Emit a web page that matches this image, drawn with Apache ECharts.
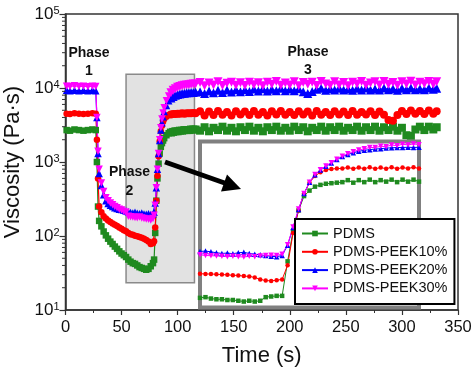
<!DOCTYPE html>
<html>
<head>
<meta charset="utf-8">
<script src="https://cdn.jsdelivr.net/npm/echarts@6/dist/echarts.min.js"></script>
<style>
  html, body { margin: 0; padding: 0; background: #fff; }
  #chart { width: 474px; height: 376px; }
</style>
</head>
<body>
<div id="chart"></div>
<script>
// ---- main plot data (time in s, viscosity in Pa·s) ----
const times = [
  1, 4, 8, 12, 16, 20, 24, 27,
  28, 29, 30,
  32, 34, 36, 38, 40, 42, 44, 46, 48, 50, 52, 54,
  56, 58, 60, 62, 64, 66, 68, 70, 72, 74, 76, 78,
  79, 80, 81, 82, 83, 84, 85, 86, 87, 88,
  90, 92, 94, 96, 98, 100, 102, 104, 106, 108, 110, 112, 114, 116,
  120, 124, 128, 132, 136, 140, 144, 148, 152, 156,
  160, 164, 168, 172, 176, 180, 184, 188, 192, 196,
  200, 204, 208, 212, 216, 220, 224, 228, 232, 236,
  240, 244, 248, 252, 256, 260, 264, 268, 272, 276,
  280, 284, 288, 292, 296, 300, 304, 308, 312, 316,
  320, 324, 328, 331
];

const pdms = [
  2700, 2650, 2750, 2700, 2650, 2700, 2750, 2700,
  1000, 250, 160,
  135, 115, 102, 92, 84, 78, 72, 67, 62, 58, 55, 52,
  48, 45, 43, 42, 40, 38, 37, 36, 35, 36, 39, 43,
  48, 110, 300, 600, 950, 1300, 1600, 1800, 1950, 2100,
  2300, 2450, 2500, 2550, 2600, 2600, 2650, 2650, 2700, 2700, 2700, 2750, 2750, 2750,
  2650, 2950, 2600, 2900, 2700, 3000, 2650, 2900, 2600, 2950,
  2700, 3000, 2650, 2900, 2600, 2950, 2700, 3000, 2650, 2900,
  2650, 3000, 2700, 2950, 2600, 2900, 2700, 3000, 2650, 2950,
  2700, 3000, 2650, 2900, 2700, 3000, 2650, 2950, 2700, 3000,
  2650, 2950, 2700, 3000, 2650, 2900, 2300, 2250, 2750, 3000,
  2700, 3000, 2750, 2950
];

const peek10 = [
  4500, 4450, 4550, 4500, 4450, 4500, 4550, 4500,
  2000, 600, 250,
  210, 185, 172, 162, 155, 148, 142, 136, 130, 125, 120, 116,
  110, 106, 104, 101, 99, 97, 95, 92, 88, 84, 78, 80,
  85, 130, 300, 650, 1200, 1900, 2600, 3100, 3500, 3800,
  4100, 4300, 4400, 4450, 4450, 4500, 4500, 4550, 4500, 4550, 4550, 4550, 4600, 4550,
  4850, 4250, 4800, 4300, 4900, 4350, 4750, 4250, 4850, 4400,
  4800, 4300, 4900, 4350, 4750, 4250, 4850, 4400, 4900, 4350,
  4750, 4300, 4850, 4400, 4800, 4250, 4900, 4350, 4750, 4300,
  4850, 4400, 4800, 4300, 4900, 4350, 4750, 4400, 4850, 4300,
  4800, 4350, 3700, 3600, 4300, 4900, 4450, 4950, 4500, 4900,
  4450, 4950, 4500, 4850
];

const peek20 = [
  9300, 9200, 9300, 9200, 9300, 9200, 9300, 9200,
  4000, 1300, 700,
  480, 360, 300, 275, 260, 250, 240, 235, 230, 228, 222, 218,
  212, 208, 205, 210, 203, 200, 205, 198, 196, 200, 195, 198,
  210, 280, 450, 800, 1300, 1950, 2700, 3400, 4100, 4800,
  5800, 6700, 7300, 7700, 8000, 8200, 8300, 8400, 8500, 8600, 8600, 8700, 8700, 8800,
  8900, 8400, 9100, 8600, 9300, 8700, 9400, 8800, 9500, 8900,
  9500, 9000, 9700, 9100, 9800, 9100, 9600, 9200, 9900, 9200,
  9700, 9200, 9800, 8900, 8400, 9000, 9600, 9900, 9300, 9800,
  9400, 9900, 9400, 9700, 9300, 9900, 9400, 10000, 9400, 9700,
  9400, 10000, 9500, 9800, 9300, 9900, 9500, 10000, 9500, 9800,
  9500, 10000, 9600, 9900
];

const peek30 = [
  10600, 10500, 10700, 10500, 10600, 10400, 10600, 10500,
  4000, 1400, 800,
  520, 400, 330, 300, 280, 265, 250, 240, 230, 225, 215, 210,
  185, 182, 180, 178, 176, 180, 175, 172, 170, 168, 165, 172,
  190, 260, 450, 800, 1300, 2000, 2900, 3800, 4600, 5400,
  6700, 7800, 8600, 9300, 9800, 10200, 10500, 10700, 10900, 11000, 11100, 11200, 11300, 11300,
  11900, 10700, 11700, 11000, 12100, 10800, 11600, 12000, 10900, 11800,
  10800, 12000, 11100, 11800, 10700, 12000, 11200, 12200, 10900, 11700,
  11000, 12100, 10700, 11900, 11200, 12000, 10800, 12200, 11300, 10900,
  12100, 11000, 11900, 10700, 12000, 11300, 12200, 10900, 11700, 12100,
  11000, 12200, 11200, 11900, 10900, 12100, 11300, 12300, 11000, 12000,
  11400, 12200, 11200, 12100
];

// ---- inset (magnified phase 2 -> 3 transition) ----
const insetTimes = [
  65, 66, 67, 68, 69, 70, 71, 72, 73, 74, 75, 76, 77, 78, 79, 80,
  81, 82, 83, 84, 85, 86, 87, 88, 89, 90,
  91, 92, 93, 94, 95, 96, 97, 98, 99, 100, 101, 102, 103, 104, 105
];
const insetPdms = [
  40, 41, 39, 38, 38, 37, 37, 36, 35, 36, 35, 36, 41, 42, 43, 43,
  150, 450, 950, 1600, 1950, 2250, 2400, 2500, 2550, 2600,
  2650, 2850, 2600, 2850, 2650, 2900, 2650, 2850, 2700, 2900, 2650, 2900, 2700, 2900, 2700
];
const insetPeek10 = [
  96, 95, 95, 94, 93, 92, 91, 90, 88, 87, 84, 78, 75, 74, 76, 78,
  130, 420, 950, 1750, 2600, 3300, 3800, 4100, 4250, 4350,
  4350, 4500, 4300, 4500, 4300, 4550, 4300, 4500, 4300, 4550, 4300, 4500, 4350, 4550, 4350
];
const insetPeek20 = [
  215, 218, 212, 205, 200, 203, 198, 205, 208, 200, 195, 190, 185, 180, 178, 185,
  270, 510, 980, 1750, 2650, 3450, 4100, 4700, 5300, 6000,
  6700, 7200, 7700, 8100, 8400, 8600, 8800, 8900, 9100, 9200, 9300, 9300, 9400, 9300, 9400
];
const insetPeek30 = [
  190, 186, 184, 183, 180, 178, 181, 178, 176, 180, 178, 182, 185, 188, 186, 195,
  275, 520, 1000, 1750, 2650, 3500, 4150, 4750, 5350, 6100,
  6800, 7400, 8000, 8500, 8850, 9300, 9300, 9700, 9600, 10200, 9900, 10500, 10200, 10600, 10300
];

const seriesNames = ['PDMS', 'PDMS-PEEK10%', 'PDMS-PEEK20%', 'PDMS-PEEK30%'];
const seriesValues = [pdms, peek10, peek20, peek30];
const insetValues = [insetPdms, insetPeek10, insetPeek20, insetPeek30];
const xTickLabels = [0, 50, 100, 150, 200, 250, 300, 350];
const yDecades = [1, 2, 3, 4, 5];

const FONT = 'Liberation Sans, Arial, Helvetica, sans-serif';
const colors = ['#1f8a1f', '#ff0000', '#0000ff', '#ff00ff'];
const symbols = ['rect', 'circle', 'triangle', 'triangle'];
const rotates = [0, 0, 0, 180];
const mainSizes = [6.5, 6.5, 7.5, 7.5];
const bandSizes = [8, 8, 9, 9]; // plateau markers overlap into a solid band
const insetSizes = [4.5, 4.5, 5.5, 5.5];

// minor ticks of the log axis (2..9 x 10^k)
const minorTickValues = [];
yDecades.slice(0, -1).forEach((e) => {
  for (let m = 2; m <= 9; m++) minorTickValues.push(m * Math.pow(10, e));
});

const pairs = (ts, vals) => ts.map((t, i) => [t, vals[i]]);

const mainSeries = seriesNames.map((name, i) => {
  const s = {
    name: name,
    type: 'line',
    xAxisIndex: 0,
    yAxisIndex: 0,
    data: pairs(times, seriesValues[i]),
    symbol: symbols[i],
    symbolRotate: rotates[i],
    symbolSize: (val) => (val[0] >= 94 ? bandSizes[i] : mainSizes[i]),
    showAllSymbol: true,
    lineStyle: { color: colors[i], width: 1.2 },
    itemStyle: { color: colors[i] },
    z: 2,
  };
  if (i === 0) {
    // grey box around phase 2
    s.markArea = {
      silent: true,
      itemStyle: { color: '#e2e2e2', borderColor: '#8a8a8a', borderWidth: 1.5 },
      data: [[{ coord: [54, 23.4] }, { coord: [115, 15300] }]],
    };
  }
  return s;
});

const insetSeries = seriesNames.map((name, i) => ({
  name: name,
  type: 'line',
  xAxisIndex: 1,
  yAxisIndex: 1,
  data: pairs(insetTimes, insetValues[i]),
  symbol: symbols[i],
  symbolRotate: rotates[i],
  symbolSize: insetSizes[i],
  showAllSymbol: true,
  clip: true,
  lineStyle: { color: colors[i], width: 1 },
  itemStyle: { color: colors[i] },
  z: 11,
}));

const minorTickSeries = {
  type: 'custom',
  xAxisIndex: 0,
  yAxisIndex: 0,
  silent: true,
  clip: false,
  z: 3,
  data: minorTickValues.map((v) => [0, v]),
  renderItem: (params, api) => {
    const p = api.coord([0, api.value(1)]);
    return {
      type: 'line',
      shape: { x1: p[0] - 3.5, y1: p[1], x2: p[0], y2: p[1] },
      style: { stroke: '#333', lineWidth: 1 },
    };
  },
};

const chart = echarts.init(document.getElementById('chart'), null, { renderer: 'canvas' });

const option = {
  backgroundColor: '#fff',
  animation: false,
  textStyle: { fontFamily: FONT },
  grid: [
    { left: 65.5, right: 16, top: 14, bottom: 66, show: true, borderColor: '#333', borderWidth: 1.5,
      containLabel: false, outerBoundsMode: 'none', z: 1 },
    { left: 200, top: 141.5, width: 219, height: 166, show: true, backgroundColor: '#fff',
      borderColor: '#808080', borderWidth: 4, containLabel: false, outerBoundsMode: 'none', z: 10 },
  ],
  xAxis: [
    {
      gridIndex: 0,
      type: 'value',
      min: 0,
      max: 350,
      interval: 50,
      name: 'Time (s)',
      nameLocation: 'middle',
      nameGap: 35,
      nameTextStyle: { fontSize: 22, color: '#111', fontFamily: FONT },
      axisLine: { lineStyle: { color: '#333', width: 1.5 } },
      axisTick: { length: 5, lineStyle: { color: '#333', width: 1.2 } },
      minorTick: { show: true, splitNumber: 2, length: 3, lineStyle: { color: '#333', width: 1 } },
      splitLine: { show: false },
      axisLabel: {
        fontSize: 16.5,
        color: '#111',
        margin: 9,
        fontFamily: FONT,
        formatter: (v) => (xTickLabels.indexOf(v) >= 0 ? String(v) : ''),
      },
    },
    { gridIndex: 1, type: 'value', min: 65, max: 105, show: false },
  ],
  yAxis: [
    {
      gridIndex: 0,
      type: 'log',
      logBase: 10,
      min: 10,
      max: 100000,
      name: 'Viscosity (Pa·s)',
      nameLocation: 'middle',
      nameGap: 41,
      nameTextStyle: { fontSize: 22, color: '#111', fontFamily: FONT },
      axisLine: { lineStyle: { color: '#333', width: 1.5 } },
      axisTick: { length: 6, lineStyle: { color: '#333', width: 1.2 } },
      splitLine: { show: false },
      axisLabel: {
        margin: 6,
        color: '#111',
        formatter: (v) => '{b|10}{s|' + Math.round(Math.log10(v)) + '}',
        rich: {
          b: { fontSize: 17, fontFamily: FONT, color: '#111' },
          s: { fontSize: 11, fontFamily: FONT, color: '#111', verticalAlign: 'top' },
        },
      },
    },
    { gridIndex: 1, type: 'log', logBase: 10, min: 28.2, max: 11560, show: false },
  ],
  legend: {
    data: seriesNames,
    orient: 'vertical',
    left: 295,
    top: 219,
    z: 20,
    backgroundColor: '#fff',
    borderColor: '#000',
    borderWidth: 2,
    padding: [7, 7, 8, 6],
    itemGap: 3.3,
    itemWidth: 26,
    itemHeight: 7,
    textStyle: { fontSize: 14.5, color: '#111', fontFamily: FONT },
  },
  graphic: [
    { type: 'text', z: 100, style: { text: 'Phase\n1', x: 89, y: 62, align: 'center', verticalAlign: 'middle',
      font: 'bold 14px ' + FONT, lineHeight: 18, fill: '#111' } },
    { type: 'text', z: 100, style: { text: 'Phase\n2', x: 129.5, y: 181.5, align: 'center', verticalAlign: 'middle',
      font: 'bold 14px ' + FONT, lineHeight: 19, fill: '#111' } },
    { type: 'text', z: 100, style: { text: 'Phase\n3', x: 308, y: 61, align: 'center', verticalAlign: 'middle',
      font: 'bold 14px ' + FONT, lineHeight: 18, fill: '#111' } },
    { type: 'line', z: 100, shape: { x1: 165, y1: 162, x2: 226, y2: 183.5 },
      style: { stroke: '#000', lineWidth: 5 } },
    { type: 'polygon', z: 100, shape: { points: [[241, 189], [221, 191.5], [227, 174.5]] },
      style: { fill: '#000' } },
  ],
  series: [...mainSeries, ...insetSeries, minorTickSeries],
};

chart.setOption(option);
</script>
</body>
</html>
